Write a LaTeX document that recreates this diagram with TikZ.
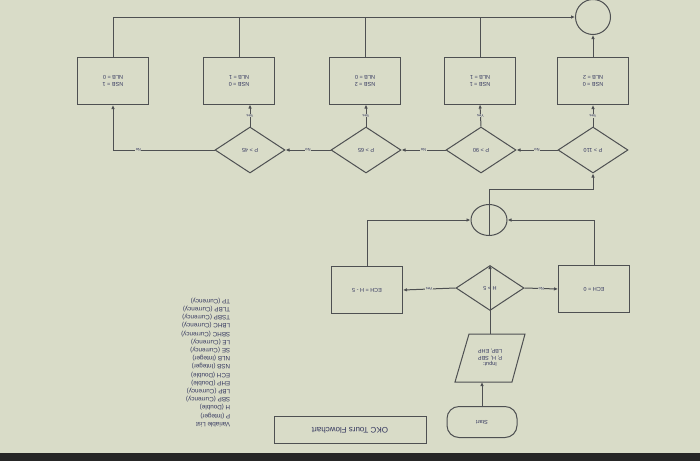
\documentclass[tikz,border=0pt]{standalone}
\usepackage{fontspec}
\setmainfont{Liberation Sans}
\usetikzlibrary{shapes.geometric,arrows.meta}
\definecolor{bg}{HTML}{D9DCC8}
\definecolor{ln}{HTML}{4E5052}
\definecolor{tx}{HTML}{33365E}
\tikzset{
  every node/.style={text=tx,font=\fontsize{5.5}{6.5}\selectfont,rotate=180},
  proc/.style={draw=ln,line width=1pt,minimum width=71pt,minimum height=47pt,align=center,inner sep=1pt},
  dec/.style={draw=ln,line width=1pt,diamond,aspect=1.5,minimum width=70pt,minimum height=46pt,inner sep=0pt},
  conn/.style={draw=ln,line width=1pt,circle,minimum size=35pt,inner sep=0pt},
  term/.style={draw=ln,line width=1pt,rounded corners=12pt,minimum width=70pt,minimum height=31pt},
  lnk/.style={draw=ln,line width=1pt},
  arr/.style={lnk,-{Latex[length=4pt,width=3.5pt]}},
  lab/.style={font=\fontsize{4}{5}\selectfont,fill=bg,inner sep=0.5pt}
}
\begin{document}
\begin{tikzpicture}[x=1pt,y=-1pt]
\fill[bg] (0,0) rectangle (700,461);
\fill[black!85] (0,453) rectangle (700,461);
\useasboundingbox (0,0) rectangle (700,461);
% top row
\node[conn] (ct) at (593,17) {};
\node[proc] (b1) at (113,81) {NSB = 1\\NLB = 0};
\node[proc] (b2) at (239,81) {NSB = 0\\NLB = 1};
\node[proc] (b3) at (365,81) {NSB = 2\\NLB = 0};
\node[proc] (b4) at (480,81) {NSB = 1\\NLB = 1};
\node[proc] (b5) at (593,81) {NSB = 0\\NLB = 2};
\node[dec] (d2) at (250,150) {P > 45};
\node[dec] (d3) at (366,150) {P > 65};
\node[dec] (d4) at (481,150) {P > 90};
\node[dec] (d5) at (593,150) {P > 110};
% middle
\node[conn,minimum width=36pt,minimum height=31pt,ellipse] (cm) at (489,220) {};
\node[proc] (e1) at (367,290) {ECH = H - 5};
\node[proc] (e0) at (594,289) {ECH = 0};
\node[dec,minimum width=68pt,minimum height=45pt] (dh) at (490,288) {H > 5};
\node[align=center,minimum width=66pt,minimum height=46pt] (inp) at (490,358) {Input:\\P, H, SBP\\LBP, EHP};
\draw[lnk] (455,382)--(469,334)--(525,334)--(512,382)--cycle;
\node[term] (st) at (482,422) {Start};
\node[draw=ln,line width=1pt,minimum width=152pt,minimum height=27pt,font=\fontsize{8}{9}\selectfont] (ti) at (350,430) {OKC Tours Flowchart};
\node[align=left,anchor=north east,font=\fontsize{6.3}{8.2}\selectfont,inner sep=0pt] (vl) at (181,427) {Variable List\\P (Integer)\\H (Double)\\SBP (Currency)\\LBP (Currency)\\EHP (Double)\\ECH (Double)\\NSB (Integer)\\NLB (Integer)\\SE (Currency)\\LE (Currency)\\SBHC (Currency)\\LBHC (Currency)\\TSBP (Currency)\\TLBP (Currency)\\TP (Currency)};
% connectors
\draw[arr] (482,407) -- (482,382);
\draw[arr] (490,334) -- (dh.south);
\draw[arr] (dh.east) -- node[lab]{Yes} (e1.west);
\draw[arr] (dh.west) -- node[lab]{No} (e0.east);
\draw[arr] (e1.south) |- (cm.east);
\draw[arr] (e0.south) |- (cm.west);
\draw[arr] (cm.north) |- (593,189) -- (d5.north);
\draw[arr] (d5.east) -- node[lab]{No} (d4.west);
\draw[arr] (d4.east) -- node[lab]{No} (d3.west);
\draw[arr] (d3.east) -- node[lab]{No} (d2.west);
\draw[arr] (d2.east) -- node[lab,pos=0.75]{No} (113,150) -- (b1.north);
\draw[arr] (d5.south) -- node[lab]{Yes} (b5.north);
\draw[arr] (d4.south) -- node[lab]{Yes} (480,104.5);
\draw[arr] (d3.south) -- node[lab]{Yes} (366,104.5);
\draw[arr] (d2.south) -- node[lab]{Yes} (250,104.5);
\draw[arr] (b5.south) -- (ct.north);
\draw[lnk] (b1.south) |- (b2.south |- 0,17);
\draw[lnk] (b2.south) -- (239,17);
\draw[lnk] (b3.south) -- (365,17);
\draw[lnk] (b4.south) -- (480,17);
\draw[arr] (239,17) -- (ct.east);
\end{tikzpicture}
\end{document}
